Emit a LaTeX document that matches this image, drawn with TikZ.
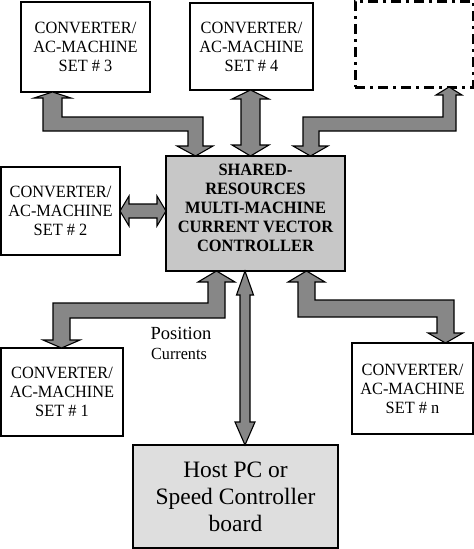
\documentclass[tikz,border=0pt]{standalone}
\usepackage{fontspec}
\setmainfont{Liberation Serif}
\newfontfamily\boxfont{Liberation Serif}[FakeStretch=0.95]
\usetikzlibrary{calc}

\begin{document}
\begin{tikzpicture}[x=1pt, y=-1pt,
    box/.style={draw, line width=2.8pt, align=center, inner sep=0pt, outer sep=0pt,
                font=\boxfont\fontsize{17.2}{19}\selectfont},
    bus/.style={draw, line width=1.1pt, fill=black!47, line join=miter}]
  \useasboundingbox (0,0) rectangle (474,549);
  % converter / machine sets
  \node[box, minimum width=129pt, minimum height=90pt] (set3) at (85.5,47) {CONVERTER/\\ AC-MACHINE\\ SET \# 3};
  \node[box, minimum width=123pt, minimum height=87pt] (set4) at (251.5,46.5) {CONVERTER/\\ AC-MACHINE\\ SET \# 4};
  \node[box, minimum width=118pt, minimum height=86pt, line width=3pt,
        dash pattern=on 10pt off 5pt on 3pt off 5pt] (setx) at (414,44) {};
  \node[box, minimum width=119pt, minimum height=88pt] (set2) at (60.5,211) {CONVERTER/\\ AC-MACHINE\\ SET \# 2};
  \node[box, minimum width=122pt, minimum height=88pt] (set1) at (62,392) {CONVERTER/\\ AC-MACHINE\\ SET \# 1};
  \node[box, minimum width=121pt, minimum height=91pt] (setn) at (412.5,388.5) {CONVERTER/\\ AC-MACHINE\\ SET \# n};
  % controller and host
  \node[box, fill=black!22, minimum width=179pt, minimum height=115pt, text depth=12pt,
        font=\boxfont\fontsize{17.3}{19}\selectfont\bfseries] (ctrl) at (255.5,213.5)
        {SHARED-\\ RESOURCES\\ MULTI-MACHINE\\ CURRENT VECTOR\\ CONTROLLER};
  \node[box, fill=black!13, minimum width=205pt, minimum height=103pt,
        font=\fontsize{23.5}{27}\selectfont] (host) at (235.5,496.5)
        {Host PC or\\ Speed Controller\\ board};
  \node[font=\fontsize{18.5}{19}\selectfont] (pos) at (181,333.5) {Position};
  \node[font=\boxfont\fontsize{17}{17}\selectfont] (cur) at (179,354) {Currents};
  % buses
  \filldraw[bus] ($(set3.south west)+(31.5,0)$) -- ++(18.5,6) -- ++(-9,0) -- ++(0,19)
    -- ++(141,0) -- ++(0,29) -- ++(10,0) -- ++(-17.5,10) -- ++(-18.5,-10) -- ++(11,0)
    -- ++(0,-15) -- ++(-145,0) -- ++(0,-33) -- ++(-9,0) -- cycle;
  \filldraw[bus] ($(set4.south west)+(60.5,0)$) -- ++(18.5,9) -- ++(-9,0) -- ++(0,46)
    -- ++(9,0) -- ++(-18.5,11) -- ++(-18.5,-11) -- ++(9,0) -- ++(0,-46) -- ++(-9,0) -- cycle;
  \filldraw[bus] ($(setx.south west)+(94,0)$) -- ++(13,8) -- ++(-6,0) -- ++(0,36)
    -- ++(-137,0) -- ++(0,15) -- ++(9,0) -- ++(-17.5,10) -- ++(-17.5,-10) -- ++(10,0)
    -- ++(0,-29) -- ++(140,0) -- ++(0,-22) -- ++(-7,0) -- cycle;
  \filldraw[bus] (set2.east) -- ++(9,-15) -- ++(0,8) -- ++(28,0) -- ++(0,-8) -- ++(9,15)
    -- ++(-9,15) -- ++(0,-8) -- ++(-28,0) -- ++(0,8) -- cycle;
  \filldraw[bus] ($(ctrl.south west)+(50.5,0)$) -- ++(18.5,11) -- ++(-10,0) -- ++(0,36)
    -- ++(-155,0) -- ++(0,22) -- ++(10,0) -- ++(-18.5,8) -- ++(-18.5,-8) -- ++(10,0)
    -- ++(0,-37) -- ++(155,0) -- ++(0,-21) -- ++(-10,0) -- cycle;
  \filldraw[bus] ($(ctrl.south)+(-10.5,0)$) -- ++(8.5,24) -- ++(-3.5,0) -- ++(0,127)
    -- ++(5,0) -- ++(-10,23) -- ++(-10,-23) -- ++(5,0) -- ++(0,-127) -- ++(-3.5,0) -- cycle;
  \filldraw[bus] ($(ctrl.south east)+(-38.5,0)$) -- ++(18.5,11) -- ++(-10,0) -- ++(0,18)
    -- ++(139,0) -- ++(0,33) -- ++(9,0) -- ++(-17.5,10) -- ++(-17.5,-10) -- ++(9,0)
    -- ++(0,-16) -- ++(-139,0) -- ++(0,-35) -- ++(-10,0) -- cycle;
\end{tikzpicture}
\end{document}
